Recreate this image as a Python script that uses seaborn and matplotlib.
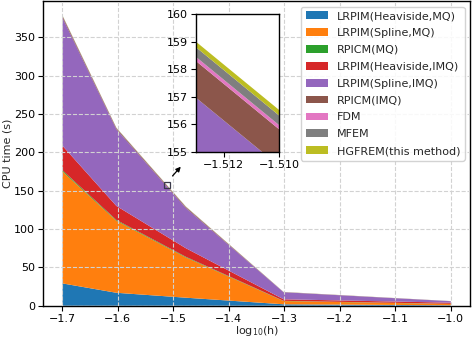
import matplotlib
matplotlib.use("Agg")
import matplotlib.pyplot as plt
import seaborn as sns

# log10 of mesh size h = 1/50, 1/40, 1/30, 1/20, 1/10
log10_h = [-1.69897, -1.60206, -1.47712, -1.30103, -1.0]

methods = [
    "LRPIM(Heaviside,MQ)",
    "LRPIM(Spline,MQ)",
    "RPICM(MQ)",
    "LRPIM(Heaviside,IMQ)",
    "LRPIM(Spline,IMQ)",
    "RPICM(IMQ)",
    "FDM",
    "MFEM",
    "HGFREM(this method)",
]

# CPU time (s) of each method at each mesh size
lrpim_heaviside_mq = [29.0, 16.8, 10.4, 1.8, 0.5]
lrpim_spline_mq = [146.0, 94.0, 52.6, 4.2, 1.7]
rpicm_mq = [1.5, 1.0, 0.8, 0.3, 0.2]
lrpim_heaviside_imq = [32.0, 18.3, 11.2, 2.0, 1.5]
lrpim_spline_imq = [167.0, 100.0, 52.5, 9.2, 1.9]
rpicm_imq = [2.0, 1.4, 1.3, 0.2, 0.1]
fdm = [0.2, 0.15, 0.15, 0.05, 0.02]
mfem = [0.5, 0.35, 0.35, 0.1, 0.05]
hgfrem = [0.3, 0.2, 0.2, 0.05, 0.02]

series = [lrpim_heaviside_mq, lrpim_spline_mq, rpicm_mq, lrpim_heaviside_imq,
          lrpim_spline_imq, rpicm_imq, fdm, mfem, hgfrem]

sns.set_style("ticks")
plt.rcParams.update({
    "font.family": ["DejaVu Sans"],
    "font.size": 8,
    "axes.edgecolor": "black",
    "axes.linewidth": 1.0,
    "xtick.color": "black",
    "ytick.color": "black",
    "xtick.major.pad": 2.5,
    "ytick.major.pad": 2.5,
    "patch.force_edgecolor": False,
})
colors = sns.color_palette("tab10", 9)

fig = plt.figure(figsize=(4.74, 3.40), dpi=100)
ax = fig.add_axes([0.091, 0.101, 0.901, 0.896])

ax.stackplot(log10_h, *series, labels=methods, colors=colors, linewidth=0.6)
ax.set_ylim(bottom=0)
ax.set_xlabel("log$_{10}$(h)", labelpad=0)
ax.set_ylabel("CPU time (s)", labelpad=1)
ax.set_xticks([-1.7, -1.6, -1.5, -1.4, -1.3, -1.2, -1.1, -1.0])
ax.set_yticks([0, 50, 100, 150, 200, 250, 300, 350])
ax.set_axisbelow(False)
ax.grid(True, linestyle="--", color="#d2d2d2", linewidth=0.8)
ax.legend(loc="upper right", fontsize=8, framealpha=0.85,
          handlelength=2.0, labelspacing=0.62)

# zoomed view of the stack near log10(h) = -1.511
x0, x1, y0, y1 = -1.513, -1.510, 155, 160
ax.plot([(x0 + x1) / 2], [(y0 + y1) / 2], marker="s", ms=4.5, mfc="none",
        mec="#3a3a4a", mew=0.9, zorder=5)
ax.annotate("", xy=(-1.4828, 184.0), xytext=(-1.5043, 166.5),
            arrowprops=dict(arrowstyle="-|>", color="black", lw=0.9,
                            mutation_scale=7))

axins = fig.add_axes([0.4135, 0.553, 0.175, 0.406])
axins.stackplot(log10_h, *series, colors=colors, linewidth=0.6)
axins.set_xlim(x0, x1)
axins.set_ylim(y0, y1)
axins.set_xticks([-1.512, -1.510])
axins.set_xticklabels(["\u22121.512", "\u22121.510"])
axins.set_yticks([155, 156, 157, 158, 159, 160])
axins.tick_params(labelsize=8)
axins.set_facecolor("white")

fig.savefig("out.png", dpi=100)
